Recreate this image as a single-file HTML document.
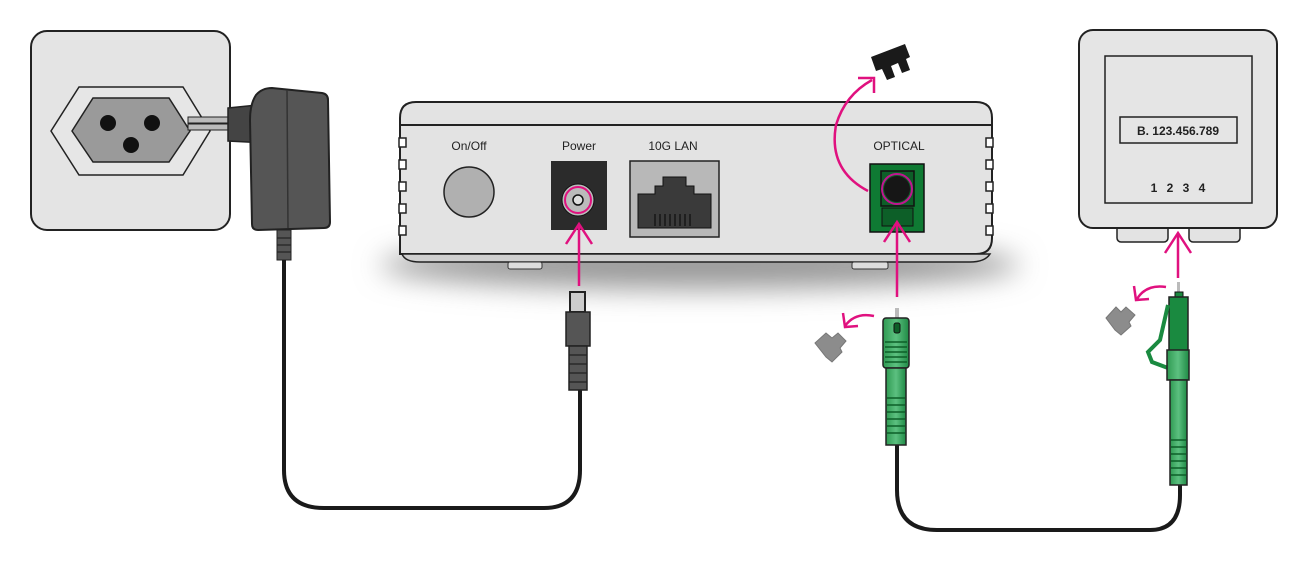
<!DOCTYPE html>
<html><head><meta charset="utf-8"><style>
html,body{margin:0;padding:0;background:#fff;}
svg{display:block}
text{font-family:"Liberation Sans",sans-serif}
</style></head><body>
<svg width="1313" height="571" viewBox="0 0 1313 571" xmlns="http://www.w3.org/2000/svg">
<defs>
<filter id="blur" x="-20%" y="-100%" width="140%" height="300%"><feGaussianBlur stdDeviation="14"/></filter>
<linearGradient id="g1" x1="0" x2="1"><stop offset="0" stop-color="#2f9a52"/><stop offset="0.5" stop-color="#5cc080"/><stop offset="1" stop-color="#1f8a45"/></linearGradient>
</defs>
<ellipse cx="700" cy="265" rx="320" ry="24" fill="#999" filter="url(#blur)"/>

<!-- wall socket -->
<rect x="31" y="31" width="199" height="199" rx="16" fill="#e4e4e4" stroke="#222" stroke-width="2"/>
<polygon points="51,131 79,87 183,87 210,131 183,175 79,175" fill="#e6e6e6" stroke="#222" stroke-width="1.5"/>
<polygon points="72,131 93,98 169,98 190,131 169,162 93,162" fill="#9a9a9a" stroke="#222" stroke-width="1.5"/>
<circle cx="108" cy="123" r="8" fill="#111"/><circle cx="152" cy="123" r="8" fill="#111"/><circle cx="131" cy="145" r="8" fill="#111"/>
<!-- adapter -->
<rect x="188" y="117" width="42" height="6" fill="#bbb" stroke="#222"/>
<rect x="188" y="124" width="42" height="6" fill="#bbb" stroke="#222"/>
<polygon points="228,108 268,104 268,143 228,141" fill="#444" stroke="#222" stroke-width="1.5"/>
<path d="M256,95 Q262,88 272,88 L322,93 Q328,94 328,100 L330,222 Q330,228 324,228 L258,230 Q252,230 252,224 L250,120 Q250,104 256,95Z" fill="#555" stroke="#222" stroke-width="2"/>
<line x1="287" y1="90" x2="288" y2="228" stroke="#333" stroke-width="1.5"/>
<rect x="277" y="230" width="14" height="30" fill="#555" stroke="#222"/>
<g stroke="#222" stroke-width="1.2"><line x1="277" y1="238" x2="291" y2="238"/><line x1="277" y1="245" x2="291" y2="245"/><line x1="277" y1="252" x2="291" y2="252"/></g>
<path d="M284,260 L284,470 Q284,508 324,508 L544,508 Q580,508 580,470 L580,390" fill="none" stroke="#1a1a1a" stroke-width="4"/>
<rect x="570" y="292" width="15" height="20" fill="#ccc" stroke="#222" stroke-width="2"/>
<rect x="566" y="312" width="24" height="34" fill="#555" stroke="#222" stroke-width="1.5"/>
<rect x="569" y="346" width="18" height="44" fill="#555" stroke="#222" stroke-width="1.5"/>
<g stroke="#222" stroke-width="1.2"><line x1="569" y1="355" x2="587" y2="355"/><line x1="569" y1="364" x2="587" y2="364"/><line x1="569" y1="373" x2="587" y2="373"/><line x1="569" y1="382" x2="587" y2="382"/></g>

<!-- router -->
<path d="M400,254 L400,118 Q400,102 416,102 L976,102 Q992,102 992,118 L992,238 Q992,254 976,254 Z" fill="#e3e3e3" stroke="#222" stroke-width="2"/>
<line x1="400" y1="125" x2="992" y2="125" stroke="#222" stroke-width="2"/>
<path d="M402,254 L990,254 Q985,262 970,262 L420,262 Q405,262 402,254Z" fill="#cfcfcf" stroke="#222" stroke-width="1.5"/>
<rect x="508" y="262" width="34" height="7" rx="2" fill="#ddd" stroke="#333"/>
<rect x="852" y="262" width="36" height="7" rx="2" fill="#ddd" stroke="#333"/>
<g fill="#fff" stroke="#222" stroke-width="1.5">
<rect x="399" y="138" width="7" height="9"/><rect x="399" y="160" width="7" height="9"/><rect x="399" y="182" width="7" height="9"/><rect x="399" y="204" width="7" height="9"/><rect x="399" y="226" width="7" height="9"/>
<rect x="986" y="138" width="7" height="9"/><rect x="986" y="160" width="7" height="9"/><rect x="986" y="182" width="7" height="9"/><rect x="986" y="204" width="7" height="9"/><rect x="986" y="226" width="7" height="9"/>
</g>
<text x="469" y="150" font-size="12" text-anchor="middle" fill="#222">On/Off</text>
<text x="579" y="150" font-size="12" text-anchor="middle" fill="#222">Power</text>
<text x="673" y="150" font-size="12" text-anchor="middle" fill="#222">10G LAN</text>
<text x="899" y="150" font-size="12" text-anchor="middle" fill="#222">OPTICAL</text>
<ellipse cx="469" cy="192" rx="25" ry="25" fill="#b0b0b0" stroke="#222" stroke-width="1.5"/>
<rect x="551" y="161" width="56" height="69" fill="#2b2b2b"/>
<circle cx="578" cy="200" r="16" fill="#bbb" stroke="#111"/>
<circle cx="578" cy="200" r="5" fill="#ddd" stroke="#111" stroke-width="1.5"/>
<circle cx="578" cy="200" r="13" fill="none" stroke="#e0117f" stroke-width="2"/>
<rect x="630" y="161" width="89" height="76" fill="#b8b8b8" stroke="#222" stroke-width="1.5"/>
<path d="M638,194 L655,194 L655,186 L663,186 L663,177 L686,177 L686,186 L694,186 L694,194 L711,194 L711,228 L638,228Z" fill="#3a3a3a" stroke="#111"/>
<g stroke="#111" stroke-width="1.3"><line x1="655" y1="214" x2="655" y2="226"/><line x1="660" y1="214" x2="660" y2="226"/><line x1="665" y1="214" x2="665" y2="226"/><line x1="670" y1="214" x2="670" y2="226"/><line x1="675" y1="214" x2="675" y2="226"/><line x1="680" y1="214" x2="680" y2="226"/><line x1="685" y1="214" x2="685" y2="226"/><line x1="690" y1="214" x2="690" y2="226"/></g>
<rect x="870" y="164" width="54" height="68" fill="#0f7a33" stroke="#111" stroke-width="1.5"/>
<rect x="881" y="171" width="33" height="35" fill="#0d5f28" stroke="#111" stroke-width="1.5"/>
<path d="M882,208 L913,208 L913,226 L882,226Z" fill="#0d5f28" stroke="#111"/>
<circle cx="897" cy="189" r="13" fill="#161616"/>
<circle cx="897" cy="189" r="15" fill="none" stroke="#c01690" stroke-width="2"/>

<!-- black cap -->
<path d="M871,57 L905,44 L910,57 L906,59 L910,70 L902,73 L898,63 L891,66 L895,77 L887,80 L882,69 L876,71Z" fill="#1a1a1a"/>
<path d="M868,191 Q828,170 836,125 Q845,95 872,80" fill="none" stroke="#e0117f" stroke-width="2.5"/>
<path d="M858,78 L874,78 L874,93" fill="none" stroke="#e0117f" stroke-width="2.5"/>

<g stroke="#e0117f" stroke-width="2.5" fill="none">
<line x1="579" y1="286" x2="579" y2="224"/><path d="M566,244 L579,224 L592,244"/>
<line x1="897" y1="297" x2="897" y2="222"/><path d="M884,242 L897,222 L910,242"/>
<line x1="1178" y1="278" x2="1178" y2="233"/><path d="M1165,253 L1178,233 L1191,253"/>
<path d="M874,316 Q855,312 845,326"/><path d="M843,313 L845,327 L858,326"/>
<path d="M1166,287 Q1146,284 1137,299"/><path d="M1134,286 L1136,300 L1149,299"/>
</g>

<path d="M815,343 L826,333 L832,338 L838,333 L846,341 L840,348 L842,352 L832,362 L826,357 Z" fill="#8c8c8c" stroke="#777"/>
<path d="M1106,318 L1116,307 L1121,312 L1126,307 L1135,315 L1129,322 L1131,326 L1121,335 L1115,330 Z" fill="#8c8c8c" stroke="#777"/>

<path d="M897,444 L897,490 Q897,530 937,530 L1150,530 Q1180,530 1180,495 L1180,485" fill="none" stroke="#1a1a1a" stroke-width="4"/>
<rect x="895" y="308" width="4" height="12" fill="#bbb"/>
<rect x="883" y="318" width="26" height="50" rx="3" fill="url(#g1)" stroke="#222" stroke-width="1.5"/>
<rect x="894" y="323" width="6" height="10" rx="2" fill="#0d5f28" stroke="#111"/>
<g stroke="#0d5f28" stroke-width="1.5"><line x1="885" y1="342" x2="907" y2="342"/><line x1="885" y1="347" x2="907" y2="347"/><line x1="885" y1="352" x2="907" y2="352"/><line x1="885" y1="357" x2="907" y2="357"/><line x1="885" y1="362" x2="907" y2="362"/></g>
<rect x="886" y="368" width="20" height="77" fill="url(#g1)" stroke="#222" stroke-width="1.5"/>
<g stroke="#0d5f28" stroke-width="1.5"><line x1="887" y1="398" x2="905" y2="398"/><line x1="887" y1="405" x2="905" y2="405"/><line x1="887" y1="412" x2="905" y2="412"/><line x1="887" y1="419" x2="905" y2="419"/><line x1="887" y1="426" x2="905" y2="426"/><line x1="887" y1="433" x2="905" y2="433"/></g>
<rect x="1177" y="282" width="3" height="12" fill="#bbb"/>
<rect x="1175" y="292" width="8" height="6" fill="#1a8a40" stroke="#111"/>
<rect x="1169" y="297" width="19" height="55" fill="#1a8a40" stroke="#222" stroke-width="1.5"/>
<path d="M1168,305 L1160,340 L1148,352 L1152,362 L1168,368" fill="none" stroke="#1a8a40" stroke-width="4"/>
<rect x="1167" y="350" width="22" height="30" fill="url(#g1)" stroke="#222" stroke-width="1.5"/>
<rect x="1170" y="380" width="17" height="105" fill="url(#g1)" stroke="#222" stroke-width="1.5"/>
<g stroke="#0d5f28" stroke-width="1.5"><line x1="1171" y1="440" x2="1186" y2="440"/><line x1="1171" y1="447" x2="1186" y2="447"/><line x1="1171" y1="454" x2="1186" y2="454"/><line x1="1171" y1="461" x2="1186" y2="461"/><line x1="1171" y1="468" x2="1186" y2="468"/><line x1="1171" y1="475" x2="1186" y2="475"/></g>

<rect x="1117" y="224" width="51" height="18" rx="4" fill="#e3e3e3" stroke="#222" stroke-width="1.5"/>
<rect x="1189" y="224" width="51" height="18" rx="4" fill="#e3e3e3" stroke="#222" stroke-width="1.5"/>
<rect x="1079" y="30" width="198" height="198" rx="14" fill="#e5e5e5" stroke="#222" stroke-width="2"/>
<rect x="1105" y="56" width="147" height="147" fill="#e5e5e5" stroke="#222" stroke-width="1.5"/>
<rect x="1120" y="117" width="117" height="26" fill="#e5e5e5" stroke="#222" stroke-width="1.5"/>
<text x="1178" y="135" font-size="12" font-weight="bold" text-anchor="middle" fill="#222">B. 123.456.789</text>
<text x="1178" y="192" font-size="12" font-weight="bold" text-anchor="middle" fill="#222" word-spacing="6">1 2 3 4</text>
</svg>
</body></html>
